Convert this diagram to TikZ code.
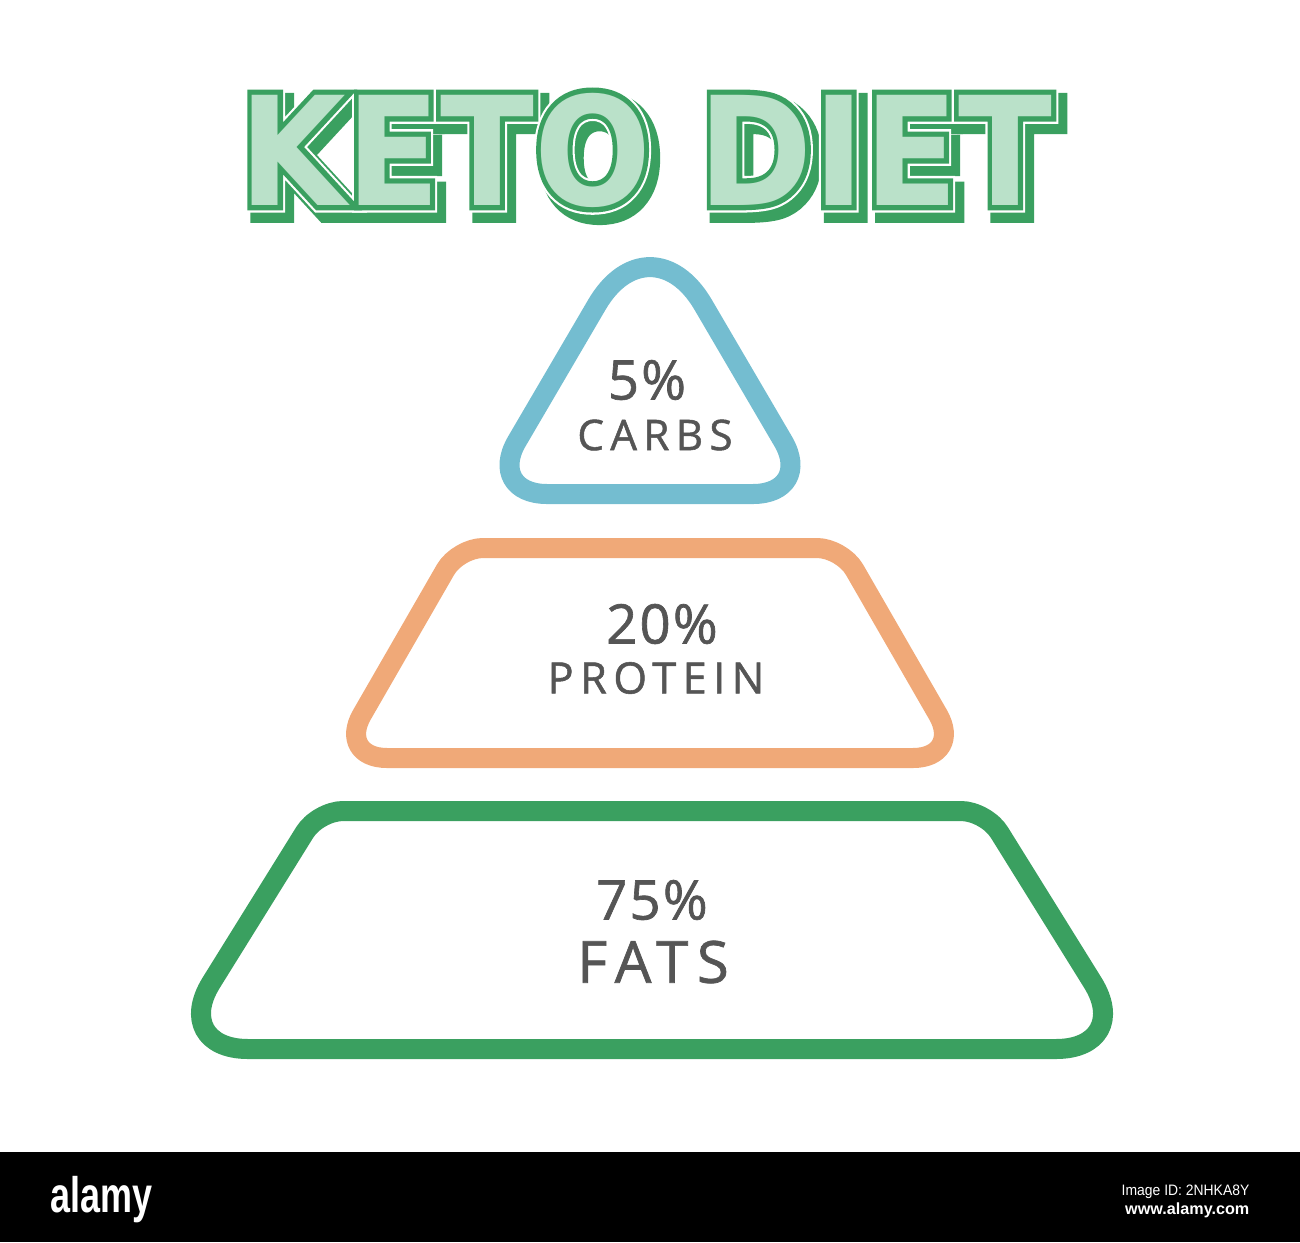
\documentclass[tikz,border=0pt]{standalone}
\usepackage{fontspec}
\setmainfont{Open Sans}
\newfontfamily\tierfont[FakeBold=1.2]{Open Sans}
\newfontfamily\titlefont{DejaVu Sans}
\newfontfamily\stockfont{Liberation Sans}
\definecolor{ketoblue}{RGB}{116,189,208}
\definecolor{ketoorange}{RGB}{240,169,120}
\definecolor{ketogreen}{RGB}{58,160,96}
\definecolor{ketomint}{RGB}{186,225,201}
\definecolor{labelgray}{RGB}{85,85,85}
\newcommand{\ketofont}{\titlefont\bfseries\fontsize{43pt}{43pt}\selectfont}
\newcommand{\ketotitle}[2]{\ketofont\addfontfeatures{FakeBold=#1}%
  \scalebox{0.91}[1]{\textcolor{#2}{KETO DIET}}}
\tikzset{
  tier/.style={line width=2mm,line join=round},
  pct/.style={text=labelgray,inner sep=0pt,
    font=\tierfont\addfontfeatures{LetterSpace=4}\fontsize{15.5pt}{18pt}\selectfont},
  macro/.style={text=labelgray,inner sep=0pt},
  stock/.style={text=white,inner sep=0pt}
}

\begin{document}
\begin{tikzpicture}[x=0.01cm,y=-0.01cm]
  \useasboundingbox (0,0) rectangle (1300,1242);

  % Titulo con relieve: sombra, hueco blanco, contorno y letra clara.
  \node[inner sep=0pt] (titleshadow) at (653,158) {\ketotitle{13}{ketogreen}};
  \node[inner sep=0pt] (titlegap) at (646,150) {\ketotitle{10}{white}};
  \node[inner sep=0pt] (titleline) at (646,150) {\ketotitle{7}{ketogreen}};
  \node[inner sep=0pt] (title) at (646,150)
    {\ketofont\scalebox{0.91}[1]{\textcolor{ketomint}{KETO DIET}}};

  % Piramide de tres niveles.
  \draw[tier,draw=ketoblue]
    (650,494) [rounded corners=6.1mm] -- (814,494) [rounded corners=10.5mm] -- (650,214)
    [rounded corners=6.1mm] -- (486,494) -- cycle;
  \draw[tier,draw=ketoorange]
    (650,548) [rounded corners=2.5mm] -- (842,548) [rounded corners=5mm] -- (963,758)
    -- (337,758) [rounded corners=2.5mm] -- (458,548) -- cycle;
  \draw[tier,draw=ketogreen]
    (652,811) [rounded corners=2.5mm] -- (986,811) [rounded corners=7.8mm] -- (1134,1049)
    -- (170,1049) [rounded corners=2.5mm] -- (318,811) -- cycle;

  \node[pct] (carbspct) at (647,380) {5\%};
  \node[macro,font=\tierfont\addfontfeatures{LetterSpace=15}\fontsize{12pt}{14pt}\selectfont]
    (carbs) at (655,435) {CARBS};

  \node[pct] (proteinpct) at (662,624) {20\%};
  \node[macro,font=\tierfont\addfontfeatures{LetterSpace=15}\fontsize{12.3pt}{15pt}\selectfont]
    (protein) at (656,678) {PROTEIN};

  \node[pct] (fatspct) at (652,900) {75\%};
  \node[macro,font=\tierfont\addfontfeatures{LetterSpace=15}\fontsize{16.5pt}{19pt}\selectfont]
    (fats) at (653,962) {FATS};

  % Franja inferior.
  \fill[black] (0,1152) rectangle (1300,1242);
  \node[stock,anchor=west] (alamylogo) at (50,1200)
    {\stockfont\bfseries\fontsize{14.2pt}{15pt}\selectfont\scalebox{0.72}[1]{alamy}};
  \node[stock,anchor=east] (imageid) at (1250,1192)
    {\stockfont\fontsize{4.3pt}{5pt}\selectfont\scalebox{0.92}[1]{Image ID: 2NHKA8Y}};
  \node[stock,anchor=east] (stockurl) at (1250,1210)
    {\stockfont\bfseries\fontsize{4.6pt}{5pt}\selectfont www.alamy.com};
\end{tikzpicture}
\end{document}
